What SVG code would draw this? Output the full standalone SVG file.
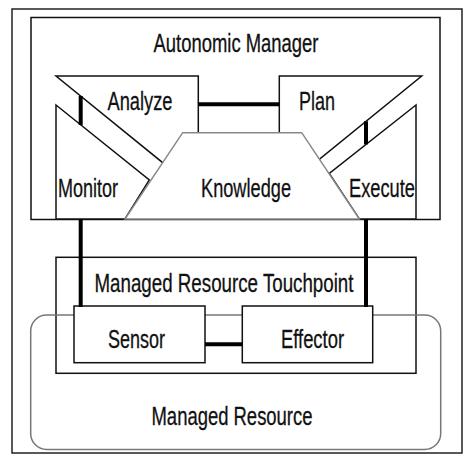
<svg xmlns="http://www.w3.org/2000/svg" width="474" height="460" viewBox="0 0 474 460">
<style>
.t{font-family:"Liberation Sans",Arial,sans-serif;font-size:26px;fill:#111;stroke:#111;stroke-width:0.3;text-anchor:middle}
.s{fill:#fff;stroke:#111;stroke-width:1.5}
.k{fill:#fff;stroke:#888;stroke-width:1.5}
.c{stroke:#000;stroke-width:4;stroke-linecap:butt;fill:none}
</style>
<rect x="0" y="0" width="474" height="460" fill="#fff"/>
<rect id="frame" x="12" y="9" width="450" height="444" fill="none" stroke="#222" stroke-width="1.5"/>
<g id="autonomic-manager">
<rect x="31" y="17.5" width="409" height="202" fill="none" stroke="#111" stroke-width="1.5"/>
<text class="t" x="236" y="52" textLength="165" lengthAdjust="spacingAndGlyphs">Autonomic Manager</text>
</g>
<g id="analyze">
<polygon class="s" points="56,76 198.3,76 198.3,132.7 162.7,162.7"/>
<text class="t" x="140" y="110" textLength="65" lengthAdjust="spacingAndGlyphs">Analyze</text>
</g>
<g id="plan">
<polygon class="s" points="279.3,76 421.7,76 319.3,159.3 279.3,132.7"/>
<text class="t" x="317" y="110" textLength="36" lengthAdjust="spacingAndGlyphs">Plan</text>
</g>
<g id="monitor">
<polygon class="s" points="56,105 149.3,180 125,219 56,219"/>
<text class="t" x="88" y="196.7" textLength="60" lengthAdjust="spacingAndGlyphs">Monitor</text>
</g>
<g id="execute">
<polygon class="s" points="416,105 329.3,173.3 359.3,219 416,219"/>
<text class="t" x="382" y="196.7" textLength="66" lengthAdjust="spacingAndGlyphs">Execute</text>
</g>
<g id="knowledge">
<polygon class="k" points="182.7,132.7 301.7,132.7 359.3,219 125,219"/>
<text class="t" x="246" y="196.7" textLength="90" lengthAdjust="spacingAndGlyphs">Knowledge</text>
</g>
<g id="touchpoint">
<rect x="56" y="257.3" width="360" height="116" fill="none" stroke="#111" stroke-width="1.5"/>
<text class="t" x="224" y="291.7" textLength="259" lengthAdjust="spacingAndGlyphs">Managed Resource Touchpoint</text>
</g>
<g id="managed-resource">
<rect x="30.7" y="315" width="410" height="134.5" rx="16" ry="16" fill="none" stroke="#777" stroke-width="1.5"/>
<text class="t" x="232" y="425" textLength="161" lengthAdjust="spacingAndGlyphs">Managed Resource</text>
</g>
<g id="sensor">
<rect class="s" x="74" y="306" width="131" height="56.7"/>
<text class="t" x="136.5" y="348.3" textLength="57" lengthAdjust="spacingAndGlyphs">Sensor</text>
</g>
<g id="effector">
<rect class="s" x="242.3" y="306" width="130.4" height="56.7"/>
<text class="t" x="312.5" y="348.3" textLength="63" lengthAdjust="spacingAndGlyphs">Effector</text>
</g>
<g id="connectors">
<line class="c" x1="198.3" y1="104.3" x2="279.3" y2="104.3"/>
<line class="c" x1="80.7" y1="96" x2="80.7" y2="125"/>
<line class="c" x1="366" y1="121.3" x2="366" y2="144.4"/>
<line class="c" x1="80.7" y1="219" x2="80.7" y2="307"/>
<line class="c" x1="366" y1="219" x2="366" y2="307"/>
<line class="c" x1="205" y1="344.3" x2="242.3" y2="344.3"/>
</g>
</svg>
